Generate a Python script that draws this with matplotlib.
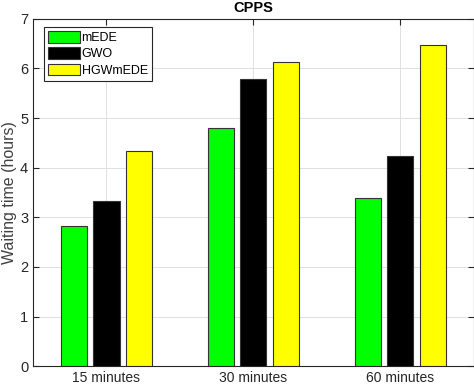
import matplotlib.pyplot as plt
import numpy as np

plt.rcParams['font.family'] = ['Liberation Sans', 'DejaVu Sans']

categories = ['15 minutes', '30 minutes', '60 minutes']
mede = [2.82, 4.80, 3.39]
gwo = [3.33, 5.79, 4.23]
hgwmede = [4.34, 6.13, 6.47]

series = [('mEDE', mede, '#00ff00'), ('GWO', gwo, '#000000'), ('HGWmEDE', hgwmede, '#ffff00')]

fig = plt.figure(figsize=(4.74, 3.85), dpi=100)
ax = fig.add_axes([0.0696, 0.049, 0.93, 0.902])

x = np.arange(1, len(categories) + 1)
width = 0.178
offset = 0.222
for i, (name, vals, color) in enumerate(series):
    ax.bar(x + (i - 1) * offset, vals, width, color=color, edgecolor='#333333',
           linewidth=0.8, label=name, zorder=3)

ax.set_xlim(0.5, 3.5)
ax.set_ylim(0, 7)
ax.set_xticks(x)
ax.set_xticklabels(categories, fontsize=10, color='#262626')
ax.set_yticks(range(8))
ax.tick_params(axis='y', labelsize=10.5, labelcolor='#262626')
ax.tick_params(direction='in', top=True, right=True, length=4, color='#262626')
ax.grid(True, color='#e0e0e0', linewidth=0.7, zorder=0)
ax.set_axisbelow(True)
for s in ax.spines.values():
    s.set_color('#262626')
    s.set_linewidth(0.8)

ax.set_ylabel('Waiting time (hours)', fontsize=11.5, color='#404040', labelpad=2)
ax.set_title('CPPS', fontsize=10.5, fontweight='bold', pad=5)

leg = ax.legend(loc='upper left', bbox_to_anchor=(0.025, 0.977), fontsize=9,
                fancybox=False, edgecolor='#262626', framealpha=1, borderpad=0.35,
                labelspacing=0.25, handlelength=2.5, handleheight=1.05,
                handletextpad=0.15, borderaxespad=0)
leg.get_frame().set_linewidth(0.8)

fig.savefig('out.png', dpi=100)
